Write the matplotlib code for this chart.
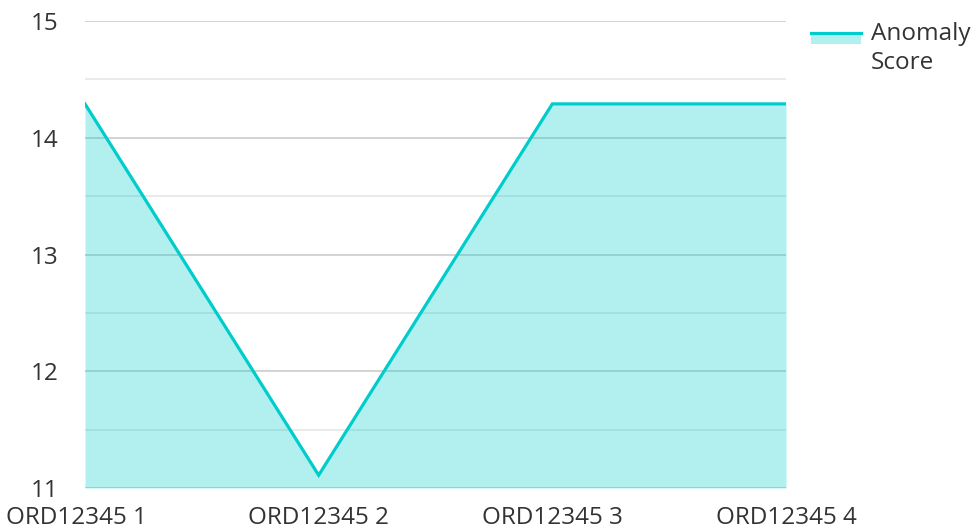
import matplotlib.pyplot as plt
from matplotlib.patches import Rectangle
from matplotlib.lines import Line2D
from matplotlib.transforms import ScaledTranslation

# data
orders = ["ORD12345 1", "ORD12345 2", "ORD12345 3", "ORD12345 4"]
scores = [14.29, 11.11, 14.29, 14.29]
series_name = "Anomaly\nScore"

line_col = "#00cccc"
text_col = "#333333"
fs = 17.5

plt.rcParams["font.family"] = ["Open Sans", "DejaVu Sans"]

fig = plt.figure(figsize=(9.76, 5.29), dpi=100)
ax = fig.add_axes([85 / 976, 1 - 488 / 529, (786 - 85) / 976, (488 - 21) / 529])

x = range(len(orders))
ax.fill_between(x, scores, 11, color=line_col, alpha=0.3, linewidth=0, zorder=2)
ax.plot(x, scores, color=line_col, linewidth=2.3, zorder=3, solid_joinstyle="miter")

ax.set_xlim(0, len(orders) - 1)
ax.set_ylim(11, 15)
ax.set_yticks([11, 12, 13, 14, 15])
ax.set_yticks([11.5, 12.5, 13.5, 14.5], minor=True)
ax.grid(True, which="major", axis="y", color="#cccccc", linewidth=1.2)
ax.grid(True, which="minor", axis="y", color="#e6e6e6", linewidth=1.2)
ax.set_axisbelow(True)

ax.set_xticks(list(x))
ax.set_xticklabels(orders)
for s in ax.spines.values():
    s.set_visible(False)
ax.tick_params(axis="both", which="both", length=0, labelsize=fs, colors=text_col)
ax.tick_params(axis="y", pad=19)
ax.tick_params(axis="x", pad=13)
lab0 = ax.get_xticklabels()[0]
lab0.set_transform(lab0.get_transform() + ScaledTranslation(-9 / 100, 0, fig.dpi_scale_trans))

# legend drawn by hand
W, H = 976, 529
fig.add_artist(Rectangle((811 / W, 1 - 44 / H), 50 / W, 11 / H,
                         transform=fig.transFigure, facecolor=line_col, alpha=0.3, linewidth=0))
fig.add_artist(Line2D([811 / W, 861 / W], [1 - 33 / H, 1 - 33 / H],
                      transform=fig.transFigure, color=line_col, linewidth=2.3))
fig.text(871 / W, 1 - 22 / H, series_name, fontsize=fs, color=text_col,
         va="top", ha="left", linespacing=1.3, transform=fig.transFigure)

fig.savefig("out.png", dpi=100)
